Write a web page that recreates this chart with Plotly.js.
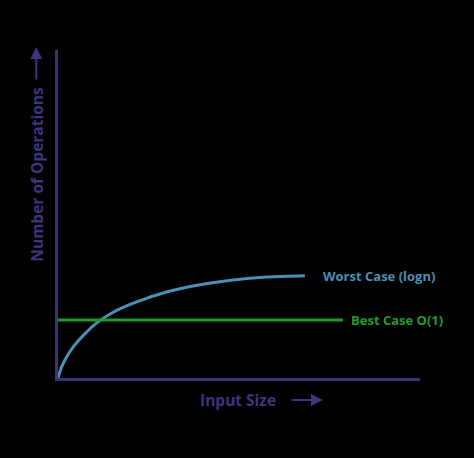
<!DOCTYPE html>
<html>
<head>
<meta charset="utf-8">
<script src="https://cdn.plot.ly/plotly-3.0.1.min.js"></script>
<style>
  html, body { margin: 0; padding: 0; background: #000; }
  #chart { width: 474px; height: 458px; }
</style>
</head>
<body>
<div id="chart"></div>
<script>
// Growth of the number of operations with input size (schematic units)
const worstX = [0, 1.0, 2.4, 4.2, 7.0, 10.7, 15.0, 21.0, 30.0, 39.2, 48.4, 57.7, 68.2];
const worstY = [0, 3.4, 6.5, 9.5, 13.0, 16.8, 19.9, 22.9, 26.2, 28.4, 29.9, 30.8, 31.2];
const bestX = [0, 78.7];
const bestY = [17.7, 17.7];
const worstLabel = 'Worst Case (logn)';
const bestLabel = 'Best Case O(1)';

const axisColor = '#3a3378';
const titleColor = '#3d3581';
const worstColor = '#4b8fb6';
const bestColor = '#1f9d29';
const fontFam = '"Open Sans", "DejaVu Sans", sans-serif';

const traces = [
  {
    x: worstX, y: worstY, type: 'scatter', mode: 'lines',
    line: { color: worstColor, width: 3, shape: 'spline', smoothing: 0.8 },
    hoverinfo: 'skip'
  },
  {
    x: bestX, y: bestY, type: 'scatter', mode: 'lines',
    line: { color: bestColor, width: 3 },
    hoverinfo: 'skip'
  }
];

const layout = {
  width: 474, height: 458,
  paper_bgcolor: '#000', plot_bgcolor: '#000',
  showlegend: false,
  margin: { l: 58, r: 54, t: 50, b: 80 },
  xaxis: {
    range: [0, 100], showgrid: false, zeroline: false, showticklabels: false,
    ticks: '', showline: true, linecolor: axisColor, linewidth: 3, fixedrange: true
  },
  yaxis: {
    range: [0, 100], showgrid: false, zeroline: false, showticklabels: false,
    ticks: '', showline: true, linecolor: axisColor, linewidth: 3, fixedrange: true
  },
  annotations: [
    {
      text: '<b>' + worstLabel + '</b>', x: worstX[worstX.length - 1], y: worstY[worstY.length - 1],
      xref: 'x', yref: 'y', xanchor: 'left', yanchor: 'middle', xshift: 16, showarrow: false,
      font: { family: fontFam, size: 13, color: worstColor }
    },
    {
      text: '<b>' + bestLabel + '</b>', x: bestX[1], y: bestY[1],
      xref: 'x', yref: 'y', xanchor: 'left', yanchor: 'middle', xshift: 6, showarrow: false,
      font: { family: fontFam, size: 13, color: bestColor }
    },
    {
      text: '<b>Number of Operations</b>', textangle: -90,
      x: -0.058, y: 0.62, xref: 'paper', yref: 'paper', xanchor: 'center', yanchor: 'middle',
      showarrow: false, font: { family: fontFam, size: 15.5, color: titleColor }
    },
    {
      text: '', x: -0.06, y: 1.009, xref: 'paper', yref: 'paper',
      showarrow: true, ax: 0, ay: 34, arrowcolor: titleColor, arrowwidth: 2,
      arrowhead: 2, arrowsize: 1.2
    },
    {
      text: '<b>Input Size</b>',
      x: 0.496, y: -0.067, xref: 'paper', yref: 'paper', xanchor: 'center', yanchor: 'middle',
      showarrow: false, font: { family: fontFam, size: 15.5, color: titleColor }
    },
    {
      text: '', x: 0.732, y: -0.067, xref: 'paper', yref: 'paper',
      showarrow: true, ax: -33, ay: 0, arrowcolor: titleColor, arrowwidth: 2,
      arrowhead: 2, arrowsize: 1.2
    }
  ]
};

Plotly.newPlot('chart', traces, layout, { displayModeBar: false, staticPlot: true });
</script>
</body>
</html>
